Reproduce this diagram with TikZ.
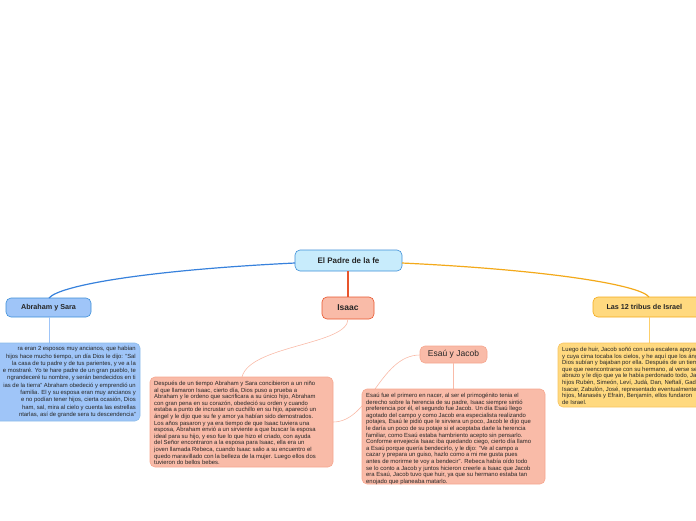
\documentclass[tikz,border=0pt]{standalone}
\usepackage{fontspec}
\setmainfont{Liberation Sans}
\begin{document}
\begin{tikzpicture}[x=1pt,y=-1pt,
 box/.style={rounded corners=5pt,line width=0.6pt,inner sep=0pt},
 txt/.style={font=\fontsize{5.9}{6.6}\selectfont,align=left,text=black!85,inner sep=0pt},
 title/.style={font=\fontsize{7.2}{8}\selectfont\bfseries,text=black!85}]
\useasboundingbox (0,0) rectangle (696,520);
\clip (0,0) rectangle (696,520);
\definecolor{cblue}{HTML}{C8ECFC}\definecolor{bblue}{HTML}{3D8FD8}
\definecolor{ablue}{HTML}{9FC5F8}\definecolor{sal}{HTML}{F9BBA8}\definecolor{red1}{HTML}{E8552C}
\definecolor{yel}{HTML}{FFD97F}\definecolor{ora}{HTML}{F3A91A}
% boxes
\draw[box,fill=cblue,draw=bblue] (295,250) rectangle (402,271);
\node[title,font=\fontsize{8}{9}\selectfont\bfseries] (c) at (348.5,260.5) {El Padre de la fe};
\draw[box,fill=ablue,draw=bblue] (6,298) rectangle (91,317);
\node[title] (a) at (48.5,307.5) {Abraham y Sara};
\draw[box,fill=sal,draw=red1] (322,297) rectangle (374,319);
\node[title,font=\fontsize{8.5}{9}\selectfont\bfseries] (i) at (348,308) {Isaac};
\draw[box,fill=yel,draw=ora] (593,297) rectangle (710,317);
\node[title,anchor=west] (t) at (603,307) {Las 12 tribus de Israel};
\draw[box,fill=sal,draw=sal!80!red1] (420,346) rectangle (487,363);
\node[font=\fontsize{8.5}{9}\selectfont,text=black!85] (e) at (453.5,354.5) {Esaú y Jacob};
% connectors
\draw[bblue!90!blue,line width=1.2pt] (295,263) .. controls (150,270) and (60,285) .. (49,298);
\draw[red1,line width=1.2pt] (348,271) -- (348,297);
\draw[ora,line width=1.2pt] (402,263) .. controls (550,270) and (640,285) .. (649,297);
\draw[ablue,line width=0.6pt] (49,317) -- (49,343);
\draw[sal,line width=0.6pt] (348,319) .. controls (348,345) and (250,345) .. (242,377);
\draw[sal,line width=0.6pt] (333,422) .. controls (370,422) and (380,355) .. (420,355);
\draw[sal,line width=0.6pt] (453,363) -- (453,389);
\draw[yel!80!ora,line width=0.6pt] (649,317) -- (649,343);
% text boxes
\draw[box,fill=ablue,draw=bblue!60] (-20,343) rectangle (140,421);
\node[txt,align=right,anchor=east,font=\fontsize{5.9}{7.3}\selectfont] (at) at (136,382) {ra eran 2 esposos muy ancianos, que habían\\
hijos hace mucho tiempo, un día Dios le dijo: "Sal\\
la casa de tu padre y de tus parientes, y ve a la\\
e mostraré. Yo te hare padre de un gran pueblo, te\\
ngrandeceré tu nombre, y serán bendecidos en ti\\
ias de la tierra" Abraham obedeció y emprendió un\\
familia. El y su esposa eran muy ancianos y\\
e no podían tener hijos, cierta ocasión, Dios\\
ham, sal, mira al cielo y cuenta las estrellas\\
ntarlas, así de grande sera tu descendencia"};
\draw[box,fill=sal,draw=sal!80!red1] (150,377) rectangle (333,467);
\node[txt,anchor=north west] (it) at (154,381) {Después de un tiempo Abraham y Sara concibieron a un niño\\
al que llamaron Isaac, cierto día, Dios puso a prueba a\\
Abraham y le ordeno que sacrificara a su único hijo, Abraham\\
con gran pena en su corazón, obedeció su orden y cuando\\
estaba a punto de incrustar un cuchillo en su hijo, apareció un\\
ángel y le dijo que su fe y amor ya habían sido demostrados.\\
Los años pasaron y ya era tiempo de que Isaac tuviera una\\
esposa, Abraham envió a un sirviente a que buscar la esposa\\
ideal para su hijo, y eso fue lo que hizo el criado, con ayuda\\
del Señor encontraron a la esposa para Isaac, ella era un\\
joven llamada Rebeca, cuando Isaac salio a su encuentro el\\
quedo maravillado con la belleza de la mujer. Luego ellos dos\\
tuvieron do bellos bebes.};
\draw[box,fill=sal,draw=sal!80!red1] (362,389) rectangle (545,484);
\node[txt,anchor=north west] (et) at (366,393) {Esaú fue el primero en nacer, al ser el primogénito tenia el\\
derecho sobre la herencia de su padre, Isaac siempre sintió\\
preferencia por él, el segundo fue Jacob. Un día Esaú llego\\
agotado del campo y como Jacob era especialista realizando\\
potajes, Esaú le pidió que le sirviera un poco, Jacob le dijo que\\
le daría un poco de su potaje si el aceptaba darle la herencia\\
familiar, como Esaú estaba hambriento acepto sin pensarlo.\\
Conforme envejecía Isaac iba quedando ciego, cierto día llamo\\
a Esaú porque quería bendecirlo, y le dijo: "Ve al campo a\\
cazar y prepara un guiso, hazlo como a mi me gusta pues\\
antes de morirme te voy a bendecir". Rebeca había oído todo\\
se lo conto a Jacob y juntos hicieron creerle a Isaac que Jacob\\
era Esaú, Jacob tuvo que huir, ya que su hermano estaba tan\\
enojado que planeaba matarlo.};
\draw[box,fill=yel,draw=ora!70] (558,343) rectangle (710,407);
\node[txt,anchor=north west] (tt) at (562,347) {Luego de huir, Jacob soñó con una escalera apoyada\\
y cuya cima tocaba los cielos, y he aquí que los ángeles de\\
Dios subían y bajaban por ella. Después de un tiempo\\
que que reencontrarse con su hermano, al verse se\\
abrazo y le dijo que ya le había perdonado todo, Jacob\\
hijos Rubén, Simeón, Leví, Judá, Dan, Neftalí, Gad\\
Isacar, Zabulón, José, representado eventualmente\\
hijos, Manasés y Efraín, Benjamín, ellos fundaron\\
de Israel.};
\end{tikzpicture}
\end{document}
